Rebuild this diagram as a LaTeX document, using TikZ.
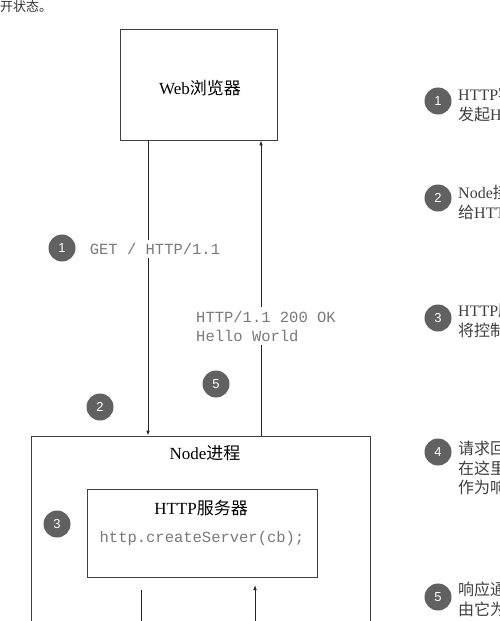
\documentclass[tikz,border=0pt]{standalone}
\usepackage{fontspec}
\setmainfont{Liberation Serif}
\setmonofont{Liberation Mono}
\newfontfamily\cjk{Noto Sans CJK SC}
\newfontfamily\numf{Liberation Sans}
\usetikzlibrary{arrows.meta}
\newcommand\zh[1]{{\cjk #1}}
\begin{document}
\begin{tikzpicture}[x=1pt,y=-1pt,
 box/.style={draw=black!75, line width=0.8pt, inner sep=0, fill=white},
 arr/.style={draw=black!85, line width=0.8pt, -{Latex[length=5pt,width=3.6pt]}},
 num/.style={circle, fill=black!62, text=white, minimum size=27pt, inner sep=0, font=\numf\fontsize{13}{13}\selectfont},
 code/.style={font=\ttfamily\fontsize{15.5}{19}\selectfont, text=black!52, inner sep=1pt},
 title/.style={font=\fontsize{17}{20}\selectfont, text=black},
 note/.style={anchor=west, font=\fontsize{16}{19}\selectfont, text=black!75, inner sep=0}]
\useasboundingbox (0,0) rectangle (500,621);
\fill[white] (0,0) rectangle (500,621);
\begin{scope}
\clip (0,0) rectangle (500,621);
% top-left cut text
\node[anchor=west, inner sep=0, font=\cjk\fontsize{13}{13}\selectfont, text=black!80] (cut) at (0,7) {开状态。};

% boxes
\node[box, minimum width=157pt, minimum height=111pt] (browser) at (198.5,84.5) {};
\node[title] (browsert) at (200,88) {Web\zh{浏览器}};
\node[box, minimum width=339pt, minimum height=224pt] (nodebox) at (200.5,548) {};
\node[title] (nodet) at (205,453) {Node\zh{进程}};
\node[box, minimum width=230pt, minimum height=88pt] (server) at (202,533) {};
\node[title] (servert) at (201,508) {HTTP\zh{服务器}};
\node[code] (create) at (202,538) {http.createServer(cb);};

% main connectors
\draw[arr] (148,0 |- browser.south) -- (148,0 |- nodebox.north);
\draw[arr] (261,0 |- nodebox.north) -- (261,0 |- browser.south);
\node[code, fill=white, inner sep=3pt] (get) at (155,249) {GET / HTTP/1.1};
\node[code, fill=white, align=left, inner sep=4pt] (resp) at (266,326) {HTTP/1.1 200 OK\\Hello World};

% small arrows below server
\coordinate (dstart) at (141,590);
\coordinate (dend) at (141,640);
\coordinate (ustart) at (255,640);
\coordinate (uend) at (255,585);
\draw[arr] (dstart) -- (dend);
\draw[arr] (ustart) -- (uend);

% left number circles
\node[num] (n1) at (62,248) {1};
\node[num] (n2) at (100,407) {2};
\node[num] (n3) at (57,524) {3};
\node[num] (n5) at (216,384) {5};

% right column
\node[num] (r1) at (438,101) {1};
\node[note] (t1a) at (458,95) {HTTP\zh{客户端，比如}Web\zh{浏览器，}};
\node[note] (t1b) at (458,114) {\zh{发起}HTTP\zh{请求}};
\node[num] (r2) at (438,198) {2};
\node[note] (t2a) at (458,193) {Node\zh{接受连接，把请求数据交}};
\node[note] (t2b) at (458,212) {\zh{给}HTTP\zh{服务器}};
\node[num] (r3) at (438,318) {3};
\node[note] (t3a) at (458,311) {HTTP\zh{服务器解析完}HTTP\zh{头后，}};
\node[note] (t3b) at (458,330) {\zh{将控制权交给请求回调}};
\node[num] (r4) at (438,452) {4};
\node[note] (t4a) at (458,449) {\zh{请求回调执行应用逻辑，}};
\node[note] (t4b) at (458,468) {\zh{在这里是立即响应文本}};
\node[note] (t4c) at (458,487) {\zh{作为响应}};
\node[num] (r5) at (438,597) {5};
\node[note] (t5a) at (458,590) {\zh{响应通过}HTTP\zh{服务器返回，}};
\node[note] (t5b) at (458,609) {\zh{由它为客户端格式化响应}};
\end{scope}
\end{tikzpicture}
\end{document}
